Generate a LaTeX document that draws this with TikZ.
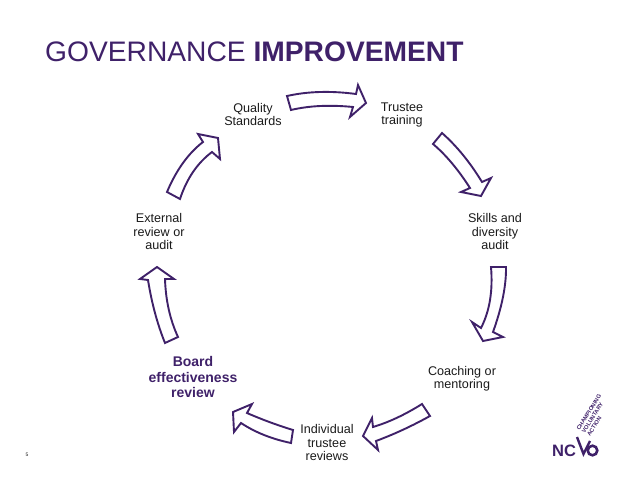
\documentclass[tikz,border=0pt]{standalone}
\usepackage{fontspec}
\setmainfont{Liberation Sans}
\definecolor{ncvo}{HTML}{3F2169}
\definecolor{ink}{HTML}{1A1A1A}
\tikzset{
  x=1pt,y=-1pt,
  lbl/.style={font=\fontsize{12.6}{13.2}\selectfont,text=ink,align=center,inner sep=0pt},
  lblb/.style={font=\fontsize{14}{15.4}\selectfont\bfseries,text=ncvo,align=center,inner sep=0pt},
  cyc/.style={draw=ncvo,line width=1.9pt,fill=white,line join=miter,miter limit=6},
  tag/.style={font=\fontsize{5.7}{6}\selectfont\bfseries,text=ncvo,inner sep=0pt,rotate=58,anchor=base west,align=left}
}
\begin{document}
\begin{tikzpicture}
\useasboundingbox (0,0) rectangle (638,478);
\node[anchor=base west,inner sep=0pt,text=ncvo,font=\fontsize{28.2}{30}\selectfont] (title) at (45,62) {GOVERNANCE \textbf{IMPROVEMENT}};
% cycle arrows
\draw[cyc] (287,96) .. controls (308,91.3) and (331,90.7) .. (356,94) -- (358,85) -- (366,103) -- (350,117) -- (353,107) .. controls (329.7,104.7) and (309,105.7) .. (291,110) -- cycle;
\draw[cyc] (442,133) .. controls (456.7,146) and (470,162.3) .. (482,182) -- (491,178) -- (481,196) -- (461,192) -- (470,188) .. controls (458,169.3) and (445.7,154.7) .. (433,144) -- cycle;
\draw[cyc] (491,267) -- (506,267) .. controls (506.3,285.3) and (502,307) .. (493,332) -- (503,337) -- (483,341) -- (472,322) -- (481,328) .. controls (489.7,311) and (493,290.7) .. (491,267) -- cycle;
\draw[cyc] (422,404) .. controls (405,414.7) and (388.7,422.3) .. (373,427) -- (372,418) -- (363,436) -- (378,450) -- (376,441) .. controls (394,434.3) and (412,426) .. (430,416) -- cycle;
\draw[cyc] (293,430) .. controls (277.7,425.3) and (262.3,419.7) .. (247,413) -- (252,404) -- (233,412) -- (234,432) -- (241,423) .. controls (255,432.3) and (271.7,439) .. (291,443) -- cycle;
\draw[cyc] (165,343) .. controls (157.3,324) and (151.7,303) .. (148,280) -- (140,279) -- (157,267) -- (174,279) -- (165,279) .. controls (165.7,300.3) and (170,319.7) .. (178,337) -- cycle;
\draw[cyc] (167,192) .. controls (176.3,170) and (188.3,153.3) .. (203,142) -- (198,134) -- (218,138) -- (220,159) -- (212,152) .. controls (197.3,163) and (186.7,178.7) .. (180,199) -- cycle;
% labels
\node[lbl] (quality) at (253,114.5) {Quality\\Standards};
\node[lbl] (trustee) at (402,115) {Trustee\\training};
\node[lbl] (skills) at (495,231.5) {Skills and\\diversity\\audit};
\node[lbl] (coaching) at (462,378.5) {Coaching or\\mentoring};
\node[lbl] (individual) at (327,442.5) {Individual\\trustee\\reviews};
\node[lblb] (board) at (193,377) {Board\\effectiveness\\review};
\node[lbl] (external) at (159,231.5) {External\\review or\\audit};
\node[inner sep=0pt,font=\fontsize{5}{6}\selectfont,text=ink] (page) at (27,455) {5};
% logo
\node[anchor=base west,inner sep=0pt,text=ncvo,font=\fontsize{16.5}{18}\selectfont\bfseries] (n) at (552,457) {NC};
\draw[ncvo,line width=2.6pt] (592.5,450.5) circle (4.8);
\draw[ncvo,line width=2.4pt,line join=miter] (577,437) -- (583.5,454) -- (590,441);
\node[tag] (t1) at (579.5,431) {CHAMPIONING};
\node[tag] (t2) at (584.8,434) {VOLUNTARY};
\node[tag] (t3) at (590,437) {ACTION};
\end{tikzpicture}
\end{document}
